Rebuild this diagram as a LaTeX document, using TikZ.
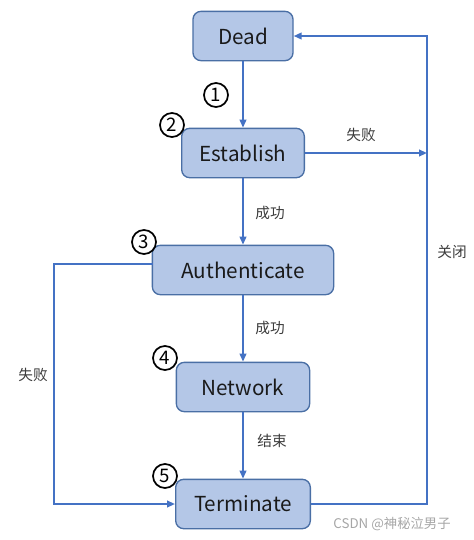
\documentclass[tikz,border=0pt]{standalone}
\usepackage{fontspec}
\setmainfont{Noto Sans CJK SC}
\usetikzlibrary{arrows.meta}
\definecolor{boxfill}{HTML}{B4C7E7}
\definecolor{boxline}{HTML}{4A6FA5}
\definecolor{flowblue}{HTML}{4472C4}
\definecolor{txtdark}{HTML}{1A1A1A}
\definecolor{markgray}{HTML}{A6A6A6}

\begin{document}
\begin{tikzpicture}[x=0.75pt, y=-0.75pt, >={Triangle[length=6pt, width=5pt]},
  state/.style={draw=boxline, fill=boxfill, line width=1pt, rounded corners=6pt,
    minimum height=37pt, font=\fontsize{15.5}{15.5}\selectfont, text=txtdark, inner sep=0pt},
  flow/.style={flowblue, line width=1.4pt},
  lbl/.style={font=\fontsize{11}{12}\selectfont, text=txtdark!85},
  num/.style={circle, draw=black, fill=white, line width=1.3pt, minimum size=18pt,
    inner sep=0pt, font=\fontsize{14}{14}\selectfont, text=black}]

\useasboundingbox (0,0) rectangle (474,540);

% States
\node[state, minimum width=75pt] (dead) at (243,36) {Dead};
\node[state, minimum width=92pt] (est) at (243,153) {Establish};
\node[state, minimum width=136pt] (auth) at (243,270) {Authenticate};
\node[state, minimum width=100pt] (net) at (243,387) {Network};
\node[state, minimum width=101pt] (term) at (243,504) {Terminate};

% Step numbers
\node[num] (n1) at (216,95) {1};
\node[num] (n2) at (172,125) {2};
\node[num] (n3) at (144,242) {3};
\node[num] (n4) at (165,358) {4};
\node[num] (n5) at (165,476) {5};

% Helper points
\coordinate (rfail) at (427,153);
\coordinate (rbot) at (427,504);
\coordinate (rtop) at (427,36);
\coordinate (aout) at (153,264);
\coordinate (ltop) at (54,264);
\coordinate (lbot) at (54,504);

% Main flow
\draw[flow, ->] (dead) -- (est);
\draw[flow, ->] (est) -- (auth);
\draw[flow, ->] (auth) -- (net);
\draw[flow, ->] (net) -- (term);

% Failure / close paths
\draw[flow, ->] (est) -- (rfail);
\draw[flow, ->] (term) -- (rbot) -- (rtop) -- (dead);
\draw[flow, ->] (aout) -- (ltop) -- (lbot) -- (term);

% Labels
\node[lbl] (l1) at (361,135) {失败};
\node[lbl] (l2) at (270,213) {成功};
\node[lbl] (l3) at (270,328) {成功};
\node[lbl] (l4) at (272,441) {结束};
\node[lbl] (l5) at (452,252) {关闭};
\node[lbl] (l6) at (33,375) {失败};

% Watermark
\node[font=\fontsize{10}{12}\selectfont, text=markgray] (wm) at (392,524) {CSDN @神秘泣男子};

\end{tikzpicture}
\end{document}
